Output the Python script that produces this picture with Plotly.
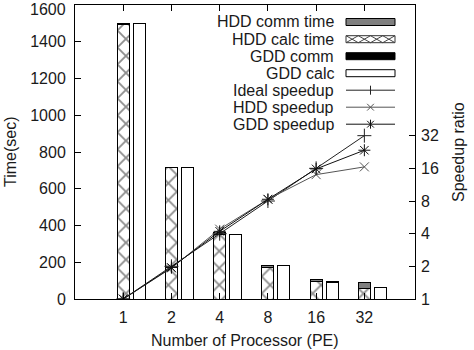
import math
import plotly.graph_objects as go

# ---- data ----
processors = ["1", "2", "4", "8", "16", "32"]
hdd_calc = [1495, 716, 352, 172, 93, 58]
hdd_comm = [3, 2, 8, 11, 14, 34]
gdd_calc = [1500, 718, 353, 180, 92, 63]
gdd_comm = [0, 0, 0, 0, 1, 1]
ideal_speedup = [1, 2, 4, 8, 16, 32]
hdd_speedup = [1, 1.93, 4.4, 8.3, 14.0, 16.5]
gdd_speedup = [1, 1.95, 4.2, 8.3, 15.8, 23.5]
time_ticks = [0, 200, 400, 600, 800, 1000, 1200, 1400, 1600]
time_max = 1600

idx = list(range(len(processors)))
gdd_x = [i + 0.33 for i in idx]

FONT = "Liberation Sans, Arial, sans-serif"
TXT = "#1a1a1a"

fig = go.Figure()
bar_line = dict(color="black", width=1)
fig.add_trace(go.Bar(x=idx, y=hdd_calc, width=0.25, name="HDD calc time",
                     marker=dict(color="white", line=bar_line,
                                 pattern=dict(shape="x", fgcolor="#1a1a1a", bgcolor="white",
                                              size=12, solidity=0.28))))
fig.add_trace(go.Bar(x=idx, y=hdd_comm, width=0.25, name="HDD comm time",
                     marker=dict(color="#808080", line=bar_line)))
fig.add_trace(go.Bar(x=gdd_x, y=gdd_calc, width=0.25, name="GDD calc",
                     marker=dict(color="white", line=bar_line)))
fig.add_trace(go.Bar(x=gdd_x, y=gdd_comm, width=0.25, name="GDD comm",
                     marker=dict(color="black", line=bar_line)))

fig.add_trace(go.Scatter(x=idx, y=ideal_speedup, yaxis="y2", mode="lines+markers",
                         name="Ideal speedup", line=dict(color="#222", width=1),
                         marker=dict(symbol="cross-thin", size=10, line=dict(color="#222", width=1))))
fig.add_trace(go.Scatter(x=idx, y=hdd_speedup, yaxis="y2", mode="lines+markers",
                         name="HDD speedup", line=dict(color="#555", width=1),
                         marker=dict(symbol="x-thin", size=9, line=dict(color="#555", width=1))))
fig.add_trace(go.Scatter(x=idx, y=gdd_speedup, yaxis="y2", mode="lines+markers",
                         name="GDD speedup", line=dict(color="#111", width=1),
                         marker=dict(symbol="asterisk", size=10, line=dict(color="#111", width=1))))

L, R, T, B = 75, 415, 5, 299
W, H = 474, 350


def px(xp):
    return (xp - L) / (R - L)


def py(yp):
    return (B - yp) / (B - T)


fig.update_layout(
    width=W, height=H,
    margin=dict(l=L, r=W - R, t=T, b=H - B),
    paper_bgcolor="white", plot_bgcolor="white",
    barmode="stack", showlegend=False,
    font=dict(family=FONT, size=16, color=TXT),
    xaxis=dict(range=[-1, 6.05], tickvals=idx, ticktext=processors,
               ticks="inside", ticklen=6, tickcolor="black", ticklabelstandoff=4,
               showline=True, linecolor="black", linewidth=1, mirror="ticks",
               showgrid=False, zeroline=False),
    yaxis=dict(range=[0, time_max], tickvals=time_ticks, ticks="inside", ticklen=6,
               tickcolor="black", ticklabelstandoff=5,
               showline=True, linecolor="black", linewidth=1, mirror=True,
               showgrid=False, zeroline=False),
    yaxis2=dict(overlaying="y", side="right", type="log", range=[0, math.log10(512)],
                tickvals=ideal_speedup, ticktext=[str(v) for v in ideal_speedup],
                ticks="inside", ticklen=6, tickcolor="black", ticklabelstandoff=5,
                showline=False, showgrid=False, zeroline=False),
)

ann = []
# top tick label (plotly drops it because it would cross the page edge)
ann.append(dict(text=str(time_ticks[-1]), x=px(67.5), y=time_ticks[-1], xref="paper", yref="y",
                showarrow=False, xanchor="right", yanchor="top", yshift=6))
ann.append(dict(text="Time(sec)", x=px(10), y=0.5, xref="paper", yref="paper",
                textangle=-90, showarrow=False, xanchor="center", yanchor="middle"))
ann.append(dict(text="Speedup ratio", x=px(458), y=0.5, xref="paper", yref="paper",
                textangle=-90, showarrow=False, xanchor="center", yanchor="middle"))
ann.append(dict(text="Number of Processor (PE)", x=px(245), y=py(340.5), xref="paper",
                yref="paper", showarrow=False, xanchor="center", yanchor="middle"))

# custom legend (text left of symbol, as in the reference)
legend_labels = ["HDD comm time", "HDD calc time", "GDD comm", "GDD calc",
                 "Ideal speedup", "HDD speedup", "GDD speedup"]
rows = [22, 39.2, 56.2, 73.2, 90.2, 107.2, 124.2]
shapes = []
sx0, sx1 = 346, 395
for lab, ry in zip(legend_labels, rows):
    ann.append(dict(text=lab, x=px(336), y=py(ry), xref="paper", yref="paper",
                    showarrow=False, xanchor="right", yanchor="middle"))


def rect(x0, y0, x1, y1, fill, lw=1, col="black"):
    shapes.append(dict(type="rect", xref="paper", yref="paper",
                       x0=px(x0), x1=px(x1), y0=py(y1), y1=py(y0),
                       fillcolor=fill, line=dict(color=col, width=lw)))


def seg(x0, y0, x1, y1, col="black", lw=1):
    shapes.append(dict(type="line", xref="paper", yref="paper",
                       x0=px(x0), x1=px(x1), y0=py(y0), y1=py(y1),
                       line=dict(color=col, width=lw)))


hh = 3.5
rect(sx0, rows[0] - hh, sx1, rows[0] + hh, "#808080")
rect(sx0, rows[1] - hh, sx1, rows[1] + hh, "white", col="#333")
ncell = 4
cw = (sx1 - sx0) / ncell
for k in range(ncell):
    a = sx0 + k * cw
    seg(a, rows[1] - hh, a + cw, rows[1] + hh, "#444")
    seg(a, rows[1] + hh, a + cw, rows[1] - hh, "#444")
rect(sx0, rows[2] - hh, sx1, rows[2] + hh, "black")
rect(sx0, rows[3] - hh, sx1, rows[3] + hh, "white")

cx = (sx0 + sx1) / 2
m = 4.5
for ry, col in zip(rows[4:], ["#222", "#555", "#111"]):
    seg(sx0, ry, sx1, ry, col)
# ideal: plus
seg(cx, rows[4] - m, cx, rows[4] + m, "#222")
# hdd: x
seg(cx - m * 0.75, rows[5] - m * 0.75, cx + m * 0.75, rows[5] + m * 0.75, "#555")
seg(cx - m * 0.75, rows[5] + m * 0.75, cx + m * 0.75, rows[5] - m * 0.75, "#555")
# gdd: asterisk
seg(cx, rows[6] - m, cx, rows[6] + m, "#111")
seg(cx - m * 0.75, rows[6] - m * 0.75, cx + m * 0.75, rows[6] + m * 0.75, "#111")
seg(cx - m * 0.75, rows[6] + m * 0.75, cx + m * 0.75, rows[6] - m * 0.75, "#111")

fig.update_layout(annotations=ann, shapes=shapes)
fig.write_html("out.html")
